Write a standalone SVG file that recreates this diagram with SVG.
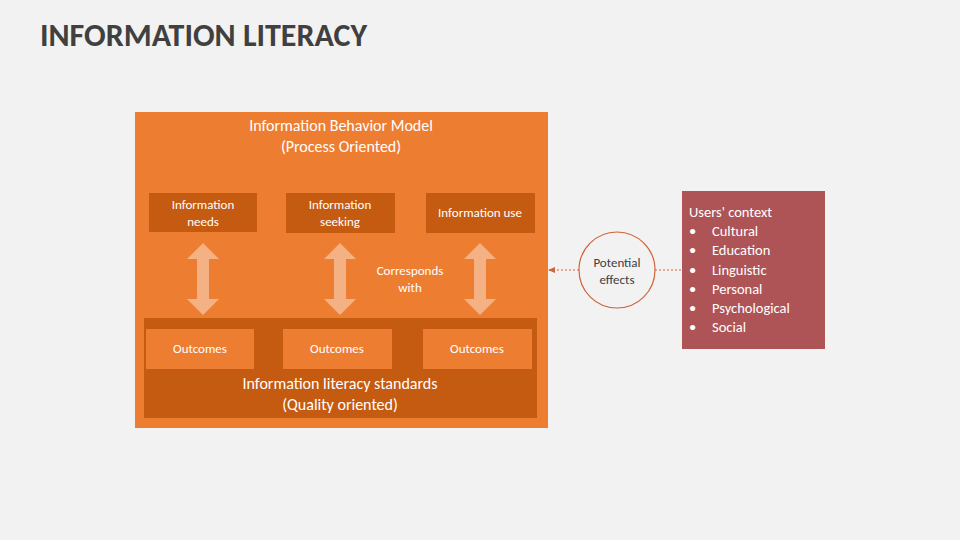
<svg xmlns="http://www.w3.org/2000/svg" width="960" height="540" viewBox="0 0 960 540">
<style>
text{font-family:Calibri,Carlito,"Liberation Sans",sans-serif;fill:#fff;text-anchor:middle}
.dk{fill:#c55a11}
.md{fill:#ed7d31}
.ar{fill:#f4b183}
.s{font-size:13px}
.b{font-size:16px}
</style>
<defs><marker id="ah" markerWidth="8" markerHeight="8" refX="6" refY="4" orient="auto" markerUnits="userSpaceOnUse"><path d="M0,1 L7,4 L0,7 Z" fill="#d0643b"/></marker></defs>
<rect width="960" height="540" fill="#f2f2f2"/>
<text x="40" y="46" style="font-size:32px;font-weight:bold;fill:#404040;text-anchor:start">INFORMATION LITERACY</text>
<g id="model">
<rect x="135" y="112" width="413" height="316" class="md"/>
<text x="341" y="131" class="b">Information Behavior Model</text>
<text x="341" y="152" class="b">(Process Oriented)</text>
</g>
<g id="needs"><rect x="149" y="193" width="108" height="39" class="dk"/><text x="203" y="209" class="s">Information</text><text x="203" y="226" class="s">needs</text></g>
<g id="seeking"><rect x="286" y="193" width="109" height="40" class="dk"/><text x="340" y="209" class="s">Information</text><text x="340" y="226" class="s">seeking</text></g>
<g id="use"><rect x="426" y="193" width="109" height="40" class="dk"/><text x="480" y="217" class="s">Information use</text></g>
<g id="standards">
<rect x="144" y="318" width="393" height="100" class="dk"/>
<text x="340" y="389" class="b">Information literacy standards</text>
<text x="340" y="410" class="b">(Quality oriented)</text>
</g>
<g id="out1"><rect x="146" y="329" width="108" height="40" class="md"/><text x="200" y="353" class="s">Outcomes</text></g>
<g id="out2"><rect x="283" y="329" width="109" height="40" class="md"/><text x="337" y="353" class="s">Outcomes</text></g>
<g id="out3"><rect x="423" y="329" width="109" height="40" class="md"/><text x="477" y="353" class="s">Outcomes</text></g>
<g id="corr"><text x="410" y="275" class="s">Corresponds</text><text x="410" y="292" class="s">with</text></g>
<g id="circle"><circle cx="617" cy="270" r="38" fill="#f2f2f2" stroke="#d0643b" stroke-width="1.2"/><text x="617" y="267" class="s" style="fill:#404040">Potential</text><text x="617" y="284" class="s" style="fill:#404040">effects</text></g>
<g id="users">
<rect x="682" y="191" width="143" height="158" fill="#ae5456"/>
<g style="font-size:14.5px">
<text x="689" y="217" style="text-anchor:start">Users' context</text>
<text x="689" y="236" style="text-anchor:start">•</text><text x="712" y="236" style="text-anchor:start">Cultural</text>
<text x="689" y="255" style="text-anchor:start">•</text><text x="712" y="255" style="text-anchor:start">Education</text>
<text x="689" y="275" style="text-anchor:start">•</text><text x="712" y="275" style="text-anchor:start">Linguistic</text>
<text x="689" y="294" style="text-anchor:start">•</text><text x="712" y="294" style="text-anchor:start">Personal</text>
<text x="689" y="313" style="text-anchor:start">•</text><text x="712" y="313" style="text-anchor:start">Psychological</text>
<text x="689" y="332" style="text-anchor:start">•</text><text x="712" y="332" style="text-anchor:start">Social</text>
</g>
</g>
<g id="connectors">
<path class="ar" d="M203,243 L219,259 L209,259 L209,299 L219,299 L203,315 L187,299 L197,299 L197,259 L187,259 Z"/>
<path class="ar" d="M340,243 L356,259 L346,259 L346,299 L356,299 L340,315 L324,299 L334,299 L334,259 L324,259 Z"/>
<path class="ar" d="M480,243 L496,259 L486,259 L486,299 L496,299 L480,315 L464,299 L474,299 L474,259 L464,259 Z"/>
<line x1="579" y1="270" x2="549" y2="270" stroke="#d0643b" stroke-dasharray="2,2" marker-end="url(#ah)"/>
<line x1="655" y1="270" x2="682" y2="270" stroke="#d0643b" stroke-dasharray="2,2"/>
</g>
</svg>
